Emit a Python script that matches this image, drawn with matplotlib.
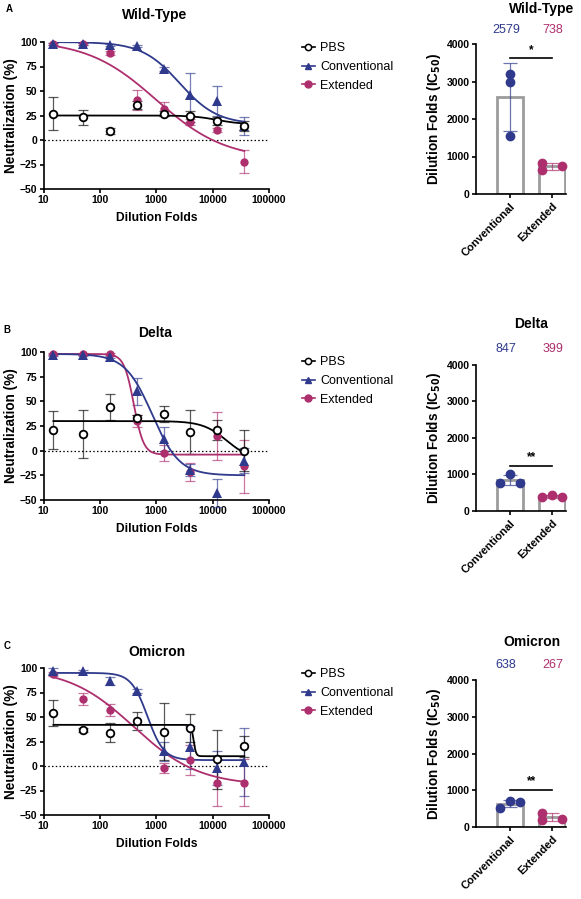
import matplotlib
matplotlib.use("Agg")
import matplotlib.pyplot as plt
from matplotlib.lines import Line2D
import numpy as np

plt.rcParams['font.family'] = ['Liberation Sans', 'DejaVu Sans']

BLUE = "#2f3a8c"
MAGENTA = "#ad2f6e"
GREY = "#9c9c9c"

W, H = 581, 899

# ---- neutralization curves (mean, sd) ----
dilutions = [15, 50, 150, 450, 1350, 4050, 12150, 36450]

wt_pbs = [27, 23, 9, 36, 27, 24, 19, 14]
wt_pbs_sd = [17, 8, 3, 4, 3, 6, 4, 5]
wt_conv = [98, 98, 97, 96, 72, 46, 40, 14]
wt_conv_sd = [1, 1, 1, 1, 2, 22, 15, 9]
wt_ext = [98, 98, 89, 41, 32, 18, 10, -22]
wt_ext_sd = [1, 1, 2, 10, 7, 3, 2, 12]

delta_pbs = [21, 17, 44, 33, 37, 19, 21, 0]
delta_pbs_sd = [19, 24, 13, 3, 8, 22, 10, 21]
delta_conv = [97, 97, 95, 60, 12, -20, -43, -10]
delta_conv_sd = [1, 1, 1, 14, 12, 6, 14, 13]
delta_ext = [98, 98, 98, 30, -2, -22, 15, -16]
delta_ext_sd = [1, 1, 1, 6, 8, 9, 24, 27]

omi_pbs = [54, 37, 34, 46, 35, 39, 7, 20]
omi_pbs_sd = [13, 2, 10, 9, 29, 14, 30, 11]
omi_conv = [97, 97, 87, 77, 15, 19, -2, 4]
omi_conv_sd = [3, 1, 4, 2, 10, 22, 17, 35]
omi_ext = [94, 68, 57, np.nan, -2, 6, -17, -17]
omi_ext_sd = [2, 6, 6, np.nan, 5, 15, 24, 24]

# fitted 4PL curves: top, bottom, IC50, hill
wt_fit_pbs = [25, 16, 12000, 2.0]
wt_fit_conv = [100, 16, 2600, 1.3]
wt_fit_ext = [102, -20, 1000, 0.71]
delta_fit_pbs = [30, -10, 18000, 2.0]
delta_fit_conv = [98, -25, 850, 1.8]
delta_fit_ext = [98, -4, 400, 5.0]
omi_fit_pbs = [42, 10, 4600, 20.0]
omi_fit_conv = [95, 6, 700, 3.0]
omi_fit_ext = [100, -20, 400, 0.75]

# ---- IC50 per animal ----
groups = ["Conventional", "Extended"]
wt_ic50_conv = [3200, 3000, 1540]
wt_ic50_ext = [640, 830, 745]
delta_ic50_conv = [770, 1010, 760]
delta_ic50_ext = [370, 440, 387]
omi_ic50_conv = [530, 700, 684]
omi_ic50_ext = [390, 200, 211]
wt_labels = ["2579", "738"]
delta_labels = ["847", "399"]
omi_labels = ["638", "267"]
sig_marks = ["*", "**", "**"]


def logistic(x, top, bottom, ic50, hill):
    return bottom + (top - bottom) / (1 + (x / ic50) ** hill)


def fx(px):
    return px / W


def fy(py):
    return 1 - py / H


def axes_box(left, top, right, bottom):
    return [fx(left), fy(bottom), (right - left) / W, (bottom - top) / H]


fig = plt.figure(figsize=(W / 100, H / 100), dpi=100)


def style_spines(ax):
    for s in ["top", "right"]:
        ax.spines[s].set_visible(False)
    for s in ["left", "bottom"]:
        ax.spines[s].set_linewidth(1.2)
    ax.tick_params(direction="out", length=3, width=1.2, labelsize=7.5, pad=1.5)
    for lab in ax.get_xticklabels() + ax.get_yticklabels():
        lab.set_fontweight("bold")


def curve_panel(box, data, fits):
    ax = fig.add_axes(box)
    xs = np.array(dilutions, dtype=float)
    xfit = np.logspace(np.log10(15), np.log10(36450), 300)
    styles = [
        dict(color="black", marker="o", mfc="white", mec="black", mew=1.3, ms=5.5),
        dict(color=BLUE, marker="^", mfc=BLUE, mec=BLUE, mew=0, ms=6.5),
        dict(color=MAGENTA, marker="o", mfc=MAGENTA, mec=MAGENTA, mew=0, ms=6),
    ]
    ax.axhline(0, color="black", lw=0.9, ls=(0, (1.2, 1.8)), zorder=1)
    for i in [2, 1, 0]:
        y, sd = data[i]
        st = styles[i]
        ax.errorbar(xs, y, yerr=sd, fmt="none", ecolor=st["color"], elinewidth=0.9,
                    capsize=3.5, capthick=0.9, alpha=0.65, zorder=2, clip_on=False)
        ax.plot(xfit, logistic(xfit, *fits[i]), color=st["color"], lw=1.3, zorder=3)
        ax.plot(xs, y, ls="none", marker=st["marker"], mfc=st["mfc"], mec=st["mec"],
                mew=st["mew"], ms=st["ms"], zorder=4 + (i == 0), clip_on=False)
    ax.set_xscale("log")
    ax.set_xlim(10, 100000)
    ax.set_ylim(-50, 100)
    ax.set_xticks([10, 100, 1000, 10000, 100000])
    ax.set_xticklabels(["10", "100", "1000", "10000", "100000"])
    ax.xaxis.set_minor_locator(matplotlib.ticker.NullLocator())
    ax.set_yticks([-50, -25, 0, 25, 50, 75, 100])
    ax.set_xlabel("Dilution Folds", fontsize=8.7, fontweight="bold", labelpad=5)
    ax.set_ylabel("Neutralization (%)", fontsize=9.8, fontweight="bold", labelpad=1)
    style_spines(ax)
    return ax


def add_legend(ax, top_px):
    handles = [
        Line2D([], [], color="black", marker="o", mfc="white", mec="black", mew=1.1, ms=4.5, lw=1.2),
        Line2D([], [], color=BLUE, marker="^", mfc=BLUE, mec=BLUE, ms=5, lw=1.2),
        Line2D([], [], color=MAGENTA, marker="o", mfc=MAGENTA, mec=MAGENTA, ms=5, lw=1.2),
    ]
    ax.legend(handles, ["PBS", "Conventional", "Extended"], loc="upper left",
              bbox_to_anchor=(fx(302), fy(top_px)), bbox_transform=fig.transFigure,
              frameon=False, fontsize=9, handlelength=1.0, handletextpad=0.45,
              labelspacing=0.55, borderpad=0, borderaxespad=0)


def bar_panel(box, conv, ext, labels, sig, conv_off, ext_off, sig_y, star_y):
    ax = fig.add_axes(box)
    vals = [conv, ext]
    cols = [BLUE, MAGENTA]
    offs = [conv_off, ext_off]
    for i in range(2):
        v = np.array(vals[i], dtype=float)
        m = v.mean()
        sd = v.std(ddof=1)
        ax.bar(i, m, width=0.62, facecolor="white", edgecolor=GREY, lw=2, zorder=1)
        ax.errorbar(i, m, yerr=sd, fmt="none", ecolor=cols[i], elinewidth=0.9,
                    capsize=5, capthick=0.9, alpha=0.7, zorder=2)
        ax.plot(i + np.array(offs[i]), v, ls="none", marker="o", color=cols[i],
                ms=6, zorder=3, clip_on=False)
    ax.plot([0, 1], [sig_y, sig_y], color="black", lw=1.2)
    ax.text(0.5, star_y, sig, ha="center", va="center", fontsize=8.5, fontweight="bold")
    ax.set_xlim(-0.81, 1.33)
    ax.set_ylim(0, 4000)
    ax.set_xticks([0, 1])
    ax.set_xticklabels(groups, rotation=45, ha="right", rotation_mode="anchor")
    ax.set_yticks([0, 1000, 2000, 3000, 4000])
    ax.set_ylabel("Dilution Folds (IC$_{\\mathbf{50}}$)", fontsize=9.8, fontweight="bold",
                  labelpad=3)
    style_spines(ax)
    ax.tick_params(axis="x", labelsize=8, pad=2)
    return ax


# ---- Wild-Type ----
axA = curve_panel(axes_box(43.5, 42, 269, 189),
                  [(wt_pbs, wt_pbs_sd), (wt_conv, wt_conv_sd), (wt_ext, wt_ext_sd)],
                  [wt_fit_pbs, wt_fit_conv, wt_fit_ext])
add_legend(axA, 42)
bar_panel(axes_box(476, 44, 566, 194), wt_ic50_conv, wt_ic50_ext, wt_labels, sig_marks[0],
          [0, 0, 0], [-0.24, -0.24, 0.24], 3640, 3830)

# ---- Delta ----
axB = curve_panel(axes_box(43.5, 352, 269, 500),
                  [(delta_pbs, delta_pbs_sd), (delta_conv, delta_conv_sd), (delta_ext, delta_ext_sd)],
                  [delta_fit_pbs, delta_fit_conv, delta_fit_ext])
add_legend(axB, 356)
bar_panel(axes_box(476, 365, 566, 511), delta_ic50_conv, delta_ic50_ext, delta_labels,
          sig_marks[1], [-0.24, 0, 0.24], [-0.24, 0, 0.24], 1245, 1480)

# ---- Omicron ----
axC = curve_panel(axes_box(43.5, 668, 269, 815),
                  [(omi_pbs, omi_pbs_sd), (omi_conv, omi_conv_sd), (omi_ext, omi_ext_sd)],
                  [omi_fit_pbs, omi_fit_conv, omi_fit_ext])
add_legend(axC, 668)
bar_panel(axes_box(476, 680, 566, 827), omi_ic50_conv, omi_ic50_ext, omi_labels,
          sig_marks[2], [-0.24, 0, 0.24], [-0.24, -0.24, 0.24], 1000, 1260)

# ---- titles, panel letters, mean labels ----
for letter, (x, y) in zip("ABC", [(9, 9), (7, 330), (7, 646)]):
    fig.text(fx(x), fy(y), letter, ha="center", va="center", fontsize=7, fontweight="bold")

left_titles = [("Wild-Type", 155, 15), ("Delta", 155, 333), ("Omicron", 157, 652)]
right_titles = [("Wild-Type", 542, 9), ("Delta", 531, 324), ("Omicron", 532, 642)]
for t, x, y in left_titles + right_titles:
    fig.text(fx(x), fy(y), t, ha="center", va="center", fontsize=10, fontweight="bold")

for labs, y in [(wt_labels, 30), (delta_labels, 349), (omi_labels, 665)]:
    fig.text(fx(506), fy(y), labs[0], ha="center", va="center", fontsize=9, color=BLUE)
    fig.text(fx(553), fy(y), labs[1], ha="center", va="center", fontsize=9, color=MAGENTA)

fig.savefig("out.png", dpi=100)
